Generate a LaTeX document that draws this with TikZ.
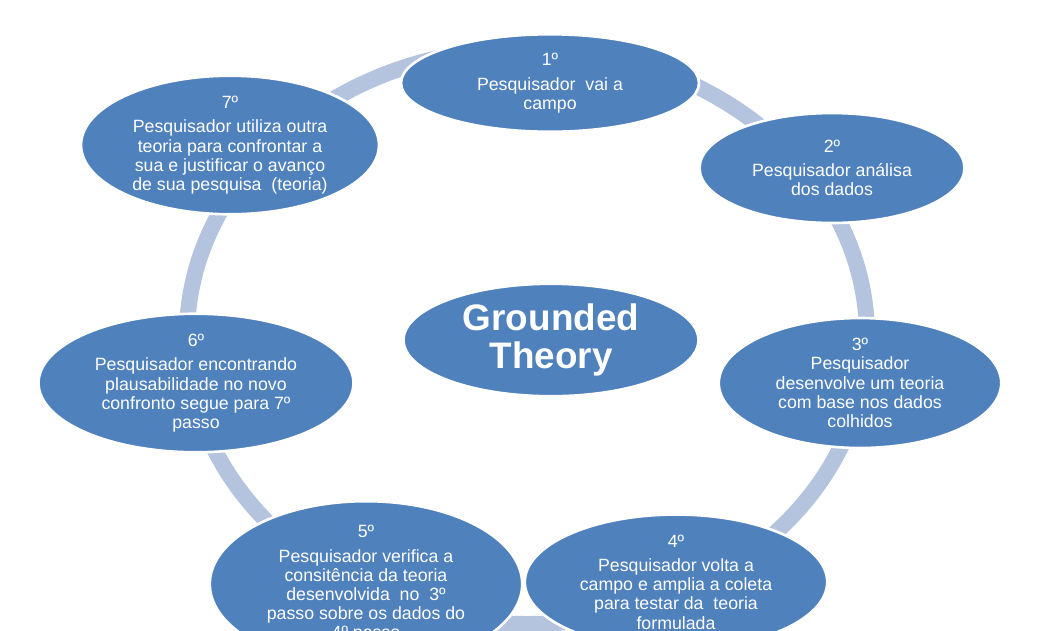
\documentclass[tikz,border=0pt]{standalone}
\usepackage{fontspec}
\setmainfont{Liberation Sans}
\usetikzlibrary{shapes.geometric}
\definecolor{stepblue}{HTML}{4F81BD}
\definecolor{ringblue}{HTML}{B4C3DE}
\tikzset{
  stepnode/.style={ellipse, fill=stepblue, draw=white, line width=1.5pt, text=white, align=center, inner sep=0pt, font=\fontsize{10.1}{10.9}\selectfont},
}
\begin{document}
\begin{tikzpicture}[x=0.02cm,y=-0.02cm]
\useasboundingbox (0,0) rectangle (1054,630);
\begin{scope}
\clip (0,0) rectangle (1054,630);
\draw[ringblue, line width=0.32cm] (527,336) ellipse [x radius=340, y radius=288];
\node[stepnode, minimum width=5.96cm, minimum height=1.95cm] (s1) at (550,83) {1º\\[3pt]Pesquisador\ \ vai a\\campo};
\node[stepnode, minimum width=5.3cm, minimum height=2.2cm] (s2) at (832,168) {2º\\[3pt]Pesquisador análisa\\dos dados};
\node[stepnode, minimum width=5.65cm, minimum height=2.6cm] (s3) at (860,383) {3º\\Pesquisador\\desenvolve um teoria\\com base nos dados\\colhidos};
\node[stepnode, minimum width=6.05cm, minimum height=2.7cm] (s4) at (676,582) {4º\\[3pt]Pesquisador volta a\\campo e amplia a coleta\\para testar da\ \ teoria\\formulada};
\node[stepnode, minimum width=6.25cm, minimum height=2.85cm] (s5) at (366,584) {5º\\[3pt]Pesquisador verifica a\\consitência da teoria\\desenvolvida\ \ no\ \ 3º\\passo sobre os dados do\\4º passo};
\node[stepnode, minimum width=6.3cm, minimum height=2.45cm] (s6) at (196,383) {6º\\[3pt]Pesquisador encontrando\\plausabilidade no novo\\confronto segue para 7º\\passo};
\node[stepnode, minimum width=5.96cm, minimum height=2.65cm] (s7) at (230,145) {7º\\[3pt]Pesquisador utiliza outra\\teoria para confrontar a\\sua e justificar o avanço\\de sua pesquisa\ \ (teoria)};
\node[stepnode, minimum width=5.9cm, minimum height=2.25cm, font=\bfseries\fontsize{21}{21.5}\selectfont] (gt) at (551,340) {Grounded\\Theory};
\end{scope}
\end{tikzpicture}
\end{document}
